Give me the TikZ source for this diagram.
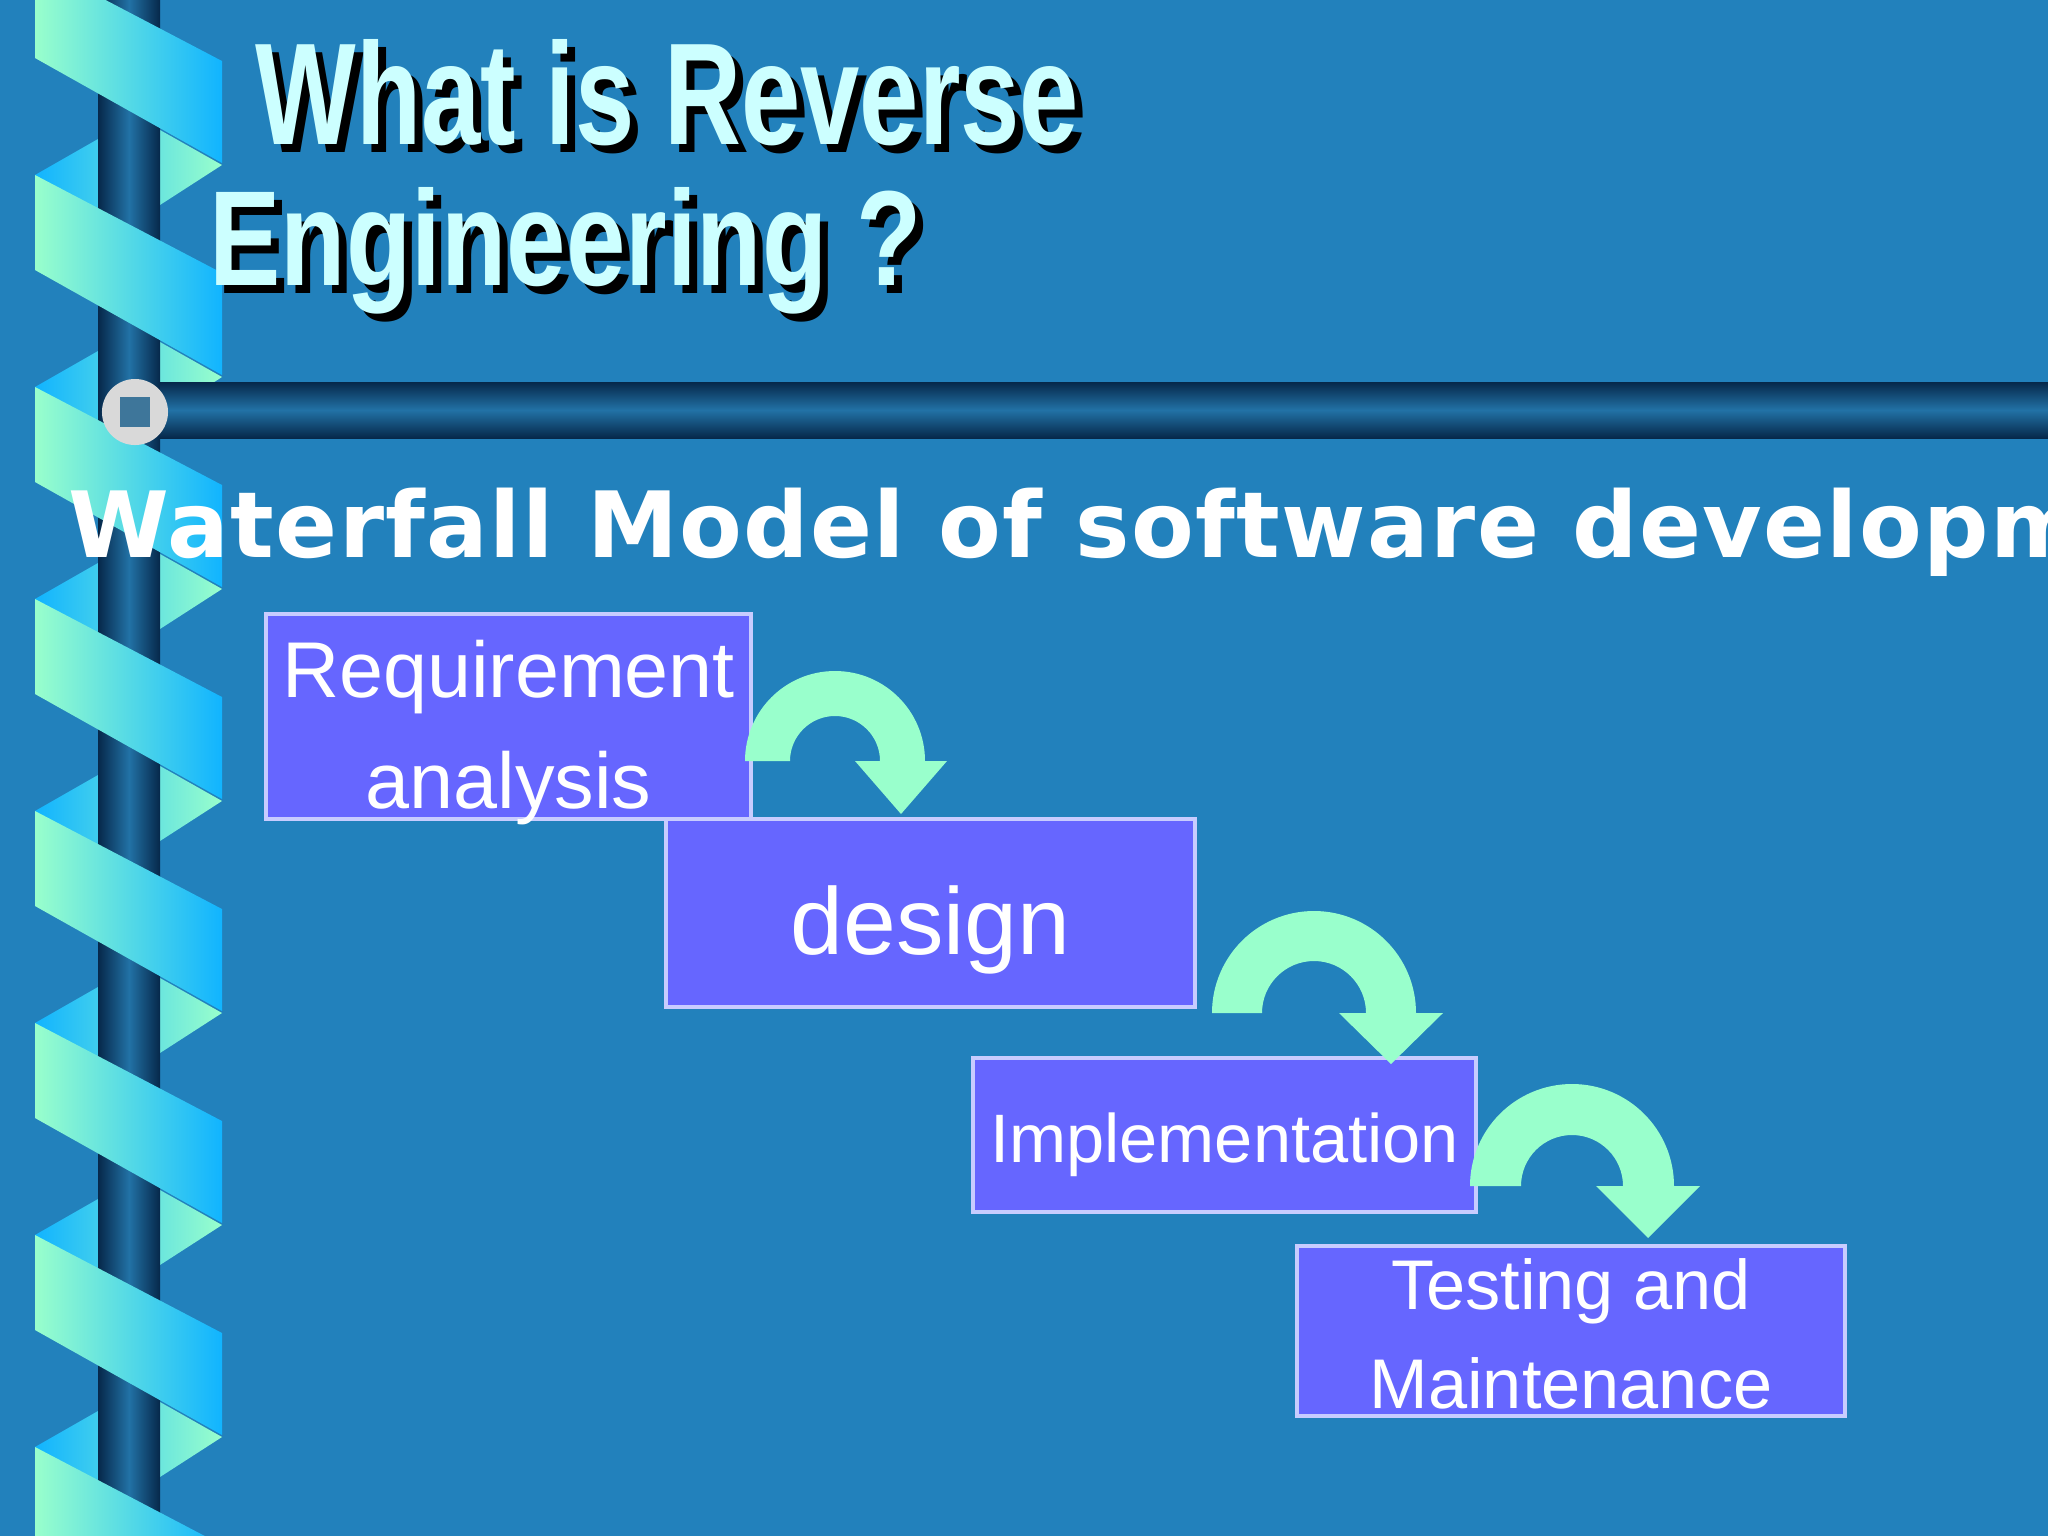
\documentclass[tikz,border=0pt]{standalone}
\usepackage{fontspec}
\setmainfont{Liberation Sans}
\newfontfamily\subfont[LetterSpace=1.5]{DejaVu Sans}
\usetikzlibrary{shapes.geometric}
\definecolor{bg}{HTML}{2281BC}
\definecolor{boxc}{HTML}{6666FF}
\definecolor{boxl}{HTML}{C8CCFF}
\definecolor{arr}{HTML}{99FFCC}
\definecolor{ttl}{HTML}{CCFFFF}
\definecolor{rg}{HTML}{99FFCC}
\definecolor{rb}{HTML}{11B4FF}
\definecolor{navy}{HTML}{06284A}
\definecolor{polemid}{HTML}{2272A6}
\tikzset{
 stepbox/.style={draw=boxl, line width=1.2pt, fill=boxc, inner sep=0pt},
 steptext/.style={text=white, align=center, inner sep=0pt},
 uarrow/.style={fill=arr, draw=none},
}
\begin{document}
\begin{tikzpicture}[x=0.01cm,y=-0.01cm]
\useasboundingbox (0,0) rectangle (2048,1536);
\fill[bg] (0,0) rectangle (2048,1536);
% back ribbon parts
\foreach \k in {1,...,7}{
 \pgfmathsetmacro{\yo}{-37+212*\k}
 \shade[left color=rb, right color=rg] (35,\yo) -- (98,\yo-36) -- (160,\yo-45) -- (222,\yo-10) -- (160,\yo+30) -- (35,\yo+60) -- cycle;
}
% pole
\shade[left color=navy, right color=navy, middle color=polemid] (98,0) rectangle (160,1536);
% front ribbons
\foreach \k in {0,...,7}{
 \pgfmathsetmacro{\yo}{-37+212*\k}
 \shade[left color=rg, right color=rb] (35,\yo) -- (222,\yo+98) -- (222,\yo+200) -- (35,\yo+95) -- cycle;
}
% horizontal bar
\shade[top color=navy, bottom color=navy, middle color=polemid] (160,382) rectangle (2048,438);
\node[circle, fill=gray!30, minimum size=0.66cm, inner sep=0pt] (knob) at (135,412) {};
\node[fill=polemid!70!gray, minimum size=0.3cm, inner sep=0pt] (knobc) at (knob) {};
% title
\node[anchor=base west, inner sep=0pt, text=black] (t1s) at (263,152) {\resizebox{8.23cm}{1.05cm}{\bfseries What is Reverse}};
\node[anchor=base west, inner sep=0pt, text=ttl] (t1) at (255,144) {\resizebox{8.23cm}{1.05cm}{\bfseries What is Reverse}};
\node[anchor=base west, inner sep=0pt, text=black] (t2s) at (217,293) {\resizebox{7.12cm}{0.98cm}{\bfseries Engineering ?}};
\node[anchor=base west, inner sep=0pt, text=ttl] (t2) at (209,285) {\resizebox{7.12cm}{0.98cm}{\bfseries Engineering ?}};
% subtitle
\begin{scope}
\clip (0,0) rectangle (2048,1536);
\node[anchor=base west, inner sep=0pt, text=white, font=\subfont\bfseries\fontsize{26pt}{30pt}\selectfont] (sub) at (68,557) {Waterfall Model of software developme};
\end{scope}
% boxes
\node[stepbox, minimum width=4.85cm, minimum height=2.05cm] (req) at (508.5,716.5) {};
\node[stepbox, minimum width=5.29cm, minimum height=1.88cm] (des) at (930.5,913) {};
\node[stepbox, minimum width=5.03cm, minimum height=1.54cm] (imp) at (1224.5,1135) {};
\node[stepbox, minimum width=5.48cm, minimum height=1.70cm] (tst) at (1571,1331) {};
\node[steptext, font=\fontsize{22.5pt}{31.6pt}\selectfont, yshift=-0.16cm] (reqt) at (req) {Requirement\\analysis};
\node[steptext, font=\fontsize{27pt}{30pt}\selectfont, yshift=-0.17cm] (dest) at (des) {design};
\node[steptext, font=\fontsize{19.5pt}{24pt}\selectfont, yshift=-0.1cm] (impt) at (imp) {Implementation};
\node[steptext, font=\fontsize{20pt}{28pt}\selectfont, yshift=-0.03cm] (tstt) at (tst) {Testing and\\Maintenance};
% arrows
\fill[uarrow] (745,761) arc (180:360:90) -- (947,761) -- (901,814) -- (855,761) -- (880,761) arc (360:180:45) -- cycle;
\fill[uarrow] (1212,1013) arc (180:360:102) -- (1443,1013) -- (1391,1064) -- (1339,1013) -- (1366,1013) arc (360:180:52) -- cycle;
\fill[uarrow] (1470,1186) arc (180:360:102) -- (1700,1186) -- (1648,1238) -- (1596,1186) -- (1623,1186) arc (360:180:51) -- cycle;
\end{tikzpicture}
\end{document}
